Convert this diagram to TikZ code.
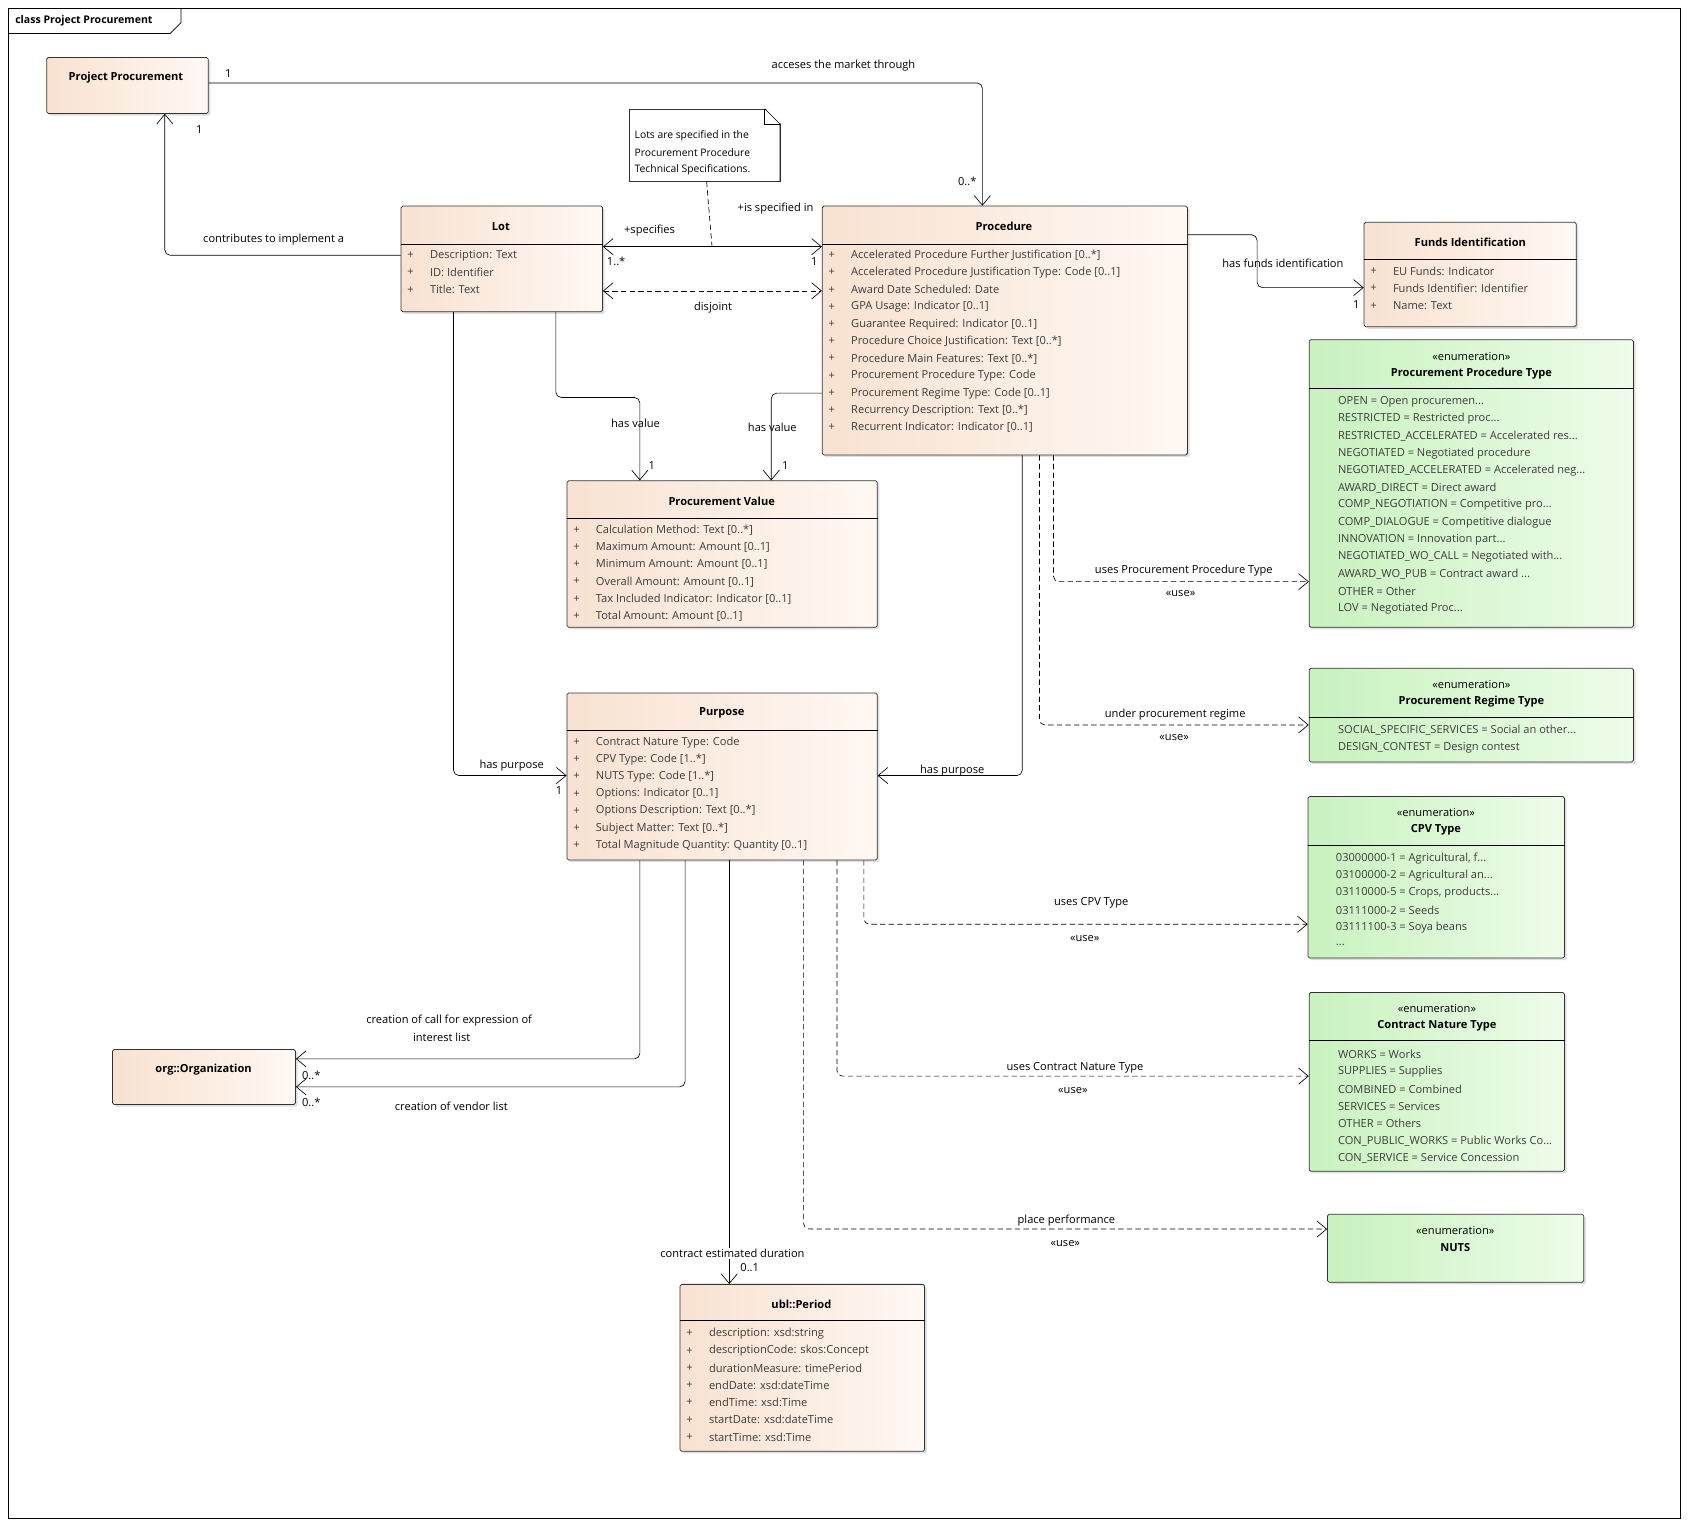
\documentclass[tikz,border=0pt]{standalone}
\usepackage{fontspec}
\setmainfont{Open Sans}
\usetikzlibrary{arrows.meta,shadows}
\definecolor{ClsL}{HTML}{F8E2D1}
\definecolor{ClsR}{HTML}{FFF8F3}
\definecolor{EnuL}{HTML}{C8F2BE}
\definecolor{EnuR}{HTML}{EEFCEA}
\definecolor{TxtC}{HTML}{3C3C3C}
\newcommand\el{...}
\tikzset{
  base/.style={draw=black!80, line width=0.7pt, rounded corners=1.5pt,
    drop shadow={shadow xshift=2pt, shadow yshift=-2pt, fill=black!25}},
  cls/.style={base, left color=ClsL, right color=ClsR},
  enu/.style={base, left color=EnuL, right color=EnuR},
  ttl/.style={font=\fontsize{10.3}{12}\selectfont\bfseries, inner sep=0pt},
  ster/.style={font=\fontsize{10.3}{12}\selectfont, inner sep=0pt},
  attr/.style={font=\fontsize{10.3}{12}\selectfont, text=TxtC, inner sep=0pt, anchor=west},
  lbl/.style={font=\fontsize{10.3}{12}\selectfont, inner sep=0pt},
  cn/.style={line width=0.6pt, rounded corners=5pt},
  dcn/.style={cn, dash pattern=on 5pt off 3pt},
  tip/.style={-{Straight Barb[length=9pt,width=15pt]}},
}
\newcommand\ubox[6]{\node[#6, anchor=north west, minimum width={(#4-#2)*1pt}, minimum height={(#5-#3)*1pt}] (#1) at (#2,#3) {};}
\newcommand\sep[2]{\draw[line width=0.7pt] (#1.west|-0,#2) -- (#1.east|-0,#2);}
\newcommand\plist[4]{\foreach \t [count=\i from 0] in {#4} {
  \node[attr] (#1p\i) at (#2,#3+16*\i) {+};
  \node[attr] (#1a\i) at (#2+21,#3+16*\i) {\t};}}
\newcommand\vlist[4]{\foreach \t [count=\i from 0] in {#4} {
  \node[attr] (#1v\i) at (#2,#3+16*\i) {\t};}}
\begin{document}
\begin{tikzpicture}[x=1pt,y=-1pt]
\useasboundingbox (0,0) rectangle (1568,1415);
% frame
\draw[line width=0.7pt] (8,8) rectangle (1560,1410);
\draw[line width=0.7pt] (8,31) -- (158,31) -- (168,21) -- (168,8);
\node[ttl, anchor=west, font=\fontsize{9.8}{12}\selectfont\bfseries] (frm) at (14,19) {class Project Procurement};

% classes
\ubox{pp}{43}{53}{193}{105}{cls}
\node[ttl] (ppT) at (117,72) {Project Procurement};

\ubox{lot}{372}{191}{559}{289}{cls}
\node[ttl] (lotT) at (465,210) {Lot};
\sep{lot}{227}
\plist{lot}{378}{237}{Description: Text,ID: Identifier,Title: Text}

\ubox{proc}{763}{191}{1102}{422}{cls}
\node[ttl] (procT) at (932,210) {Procedure};
\sep{proc}{227}
\plist{proc}{769}{237}{Accelerated Procedure Further Justification [0..*],Accelerated Procedure Justification Type: Code [0..1],Award Date Scheduled: Date,GPA Usage: Indicator [0..1],Guarantee Required: Indicator [0..1],Procedure Choice Justification: Text [0..*],Procedure Main Features: Text [0..*],Procurement Procedure Type: Code,Procurement Regime Type: Code [0..1],Recurrency Description: Text [0..*],Recurrent Indicator: Indicator [0..1]}

\ubox{fund}{1266}{206}{1463}{303}{cls}
\node[ttl] (fundT) at (1365,225) {Funds Identification};
\sep{fund}{241}
\plist{fund}{1272}{252}{EU Funds: Indicator,Funds Identifier: Identifier,Name: Text}

\ubox{val}{526}{446}{814}{582}{cls}
\node[ttl] (valT) at (670,465) {Procurement Value};
\sep{val}{481}
\plist{val}{532}{492}{Calculation Method: Text [0..*],Maximum Amount: Amount [0..1],Minimum Amount: Amount [0..1],Overall Amount: Amount [0..1],Tax Included Indicator: Indicator [0..1],Total Amount: Amount [0..1]}

\ubox{purp}{526}{643}{814}{798}{cls}
\node[ttl] (purpT) at (670,662) {Purpose};
\sep{purp}{678}
\plist{purp}{532}{689}{Contract Nature Type: Code,CPV Type: Code [1..*],NUTS Type: Code [1..*],Options: Indicator [0..1],Options Description: Text [0..*],Subject Matter: Text [0..*],Total Magnitude Quantity: Quantity [0..1]}

\ubox{org}{104}{974}{274}{1025}{cls}
\node[ttl] (orgT) at (189,993) {org::Organization};

\ubox{per}{631}{1192}{858}{1347}{cls}
\node[ttl] (perT) at (744,1211) {ubl::Period};
\sep{per}{1226}
\plist{per}{637}{1238}{description: xsd:string,descriptionCode: skos:Concept,durationMeasure: timePeriod,endDate: xsd:dateTime,endTime: xsd:Time,startDate: xsd:dateTime,startTime: xsd:Time}

% enumerations
\ubox{ppt}{1215}{315}{1516}{582}{enu}
\node[ster] (pptS) at (1366,331) {«enumeration»};
\node[ttl] (pptT) at (1366,347) {Procurement Procedure Type};
\sep{ppt}{361}
\vlist{ppt}{1242}{373}{OPEN = Open procuremen\el,RESTRICTED = Restricted proc\el,RESTRICTED\_ACCELERATED = Accelerated res\el,NEGOTIATED = Negotiated procedure,NEGOTIATED\_ACCELERATED = Accelerated neg\el,AWARD\_DIRECT = Direct award,COMP\_NEGOTIATION = Competitive pro\el,COMP\_DIALOGUE = Competitive dialogue,INNOVATION = Innovation part\el,NEGOTIATED\_WO\_CALL = Negotiated with\el,AWARD\_WO\_PUB = Contract award \el,OTHER = Other,LOV = Negotiated Proc\el}

\ubox{prt}{1215}{620}{1516}{707}{enu}
\node[ster] (prtS) at (1366,635) {«enumeration»};
\node[ttl] (prtT) at (1366,651) {Procurement Regime Type};
\sep{prt}{666}
\vlist{prt}{1242}{678}{SOCIAL\_SPECIFIC\_SERVICES = Social an other\el,DESIGN\_CONTEST = Design contest}

\ubox{cpv}{1214}{739}{1452}{889}{enu}
\node[ster] (cpvS) at (1333,754) {«enumeration»};
\node[ttl] (cpvT) at (1333,770) {CPV Type};
\sep{cpv}{785}
\vlist{cpv}{1240}{797}{03000000-1 = Agricultural{,} f\el,03100000-2 = Agricultural an\el,03110000-5 = Crops{,} products\el,03111000-2 = Seeds,03111100-3 = Soya beans,\el}

\ubox{cnt}{1215}{921}{1452}{1087}{enu}
\node[ster] (cntS) at (1334,936) {«enumeration»};
\node[ttl] (cntT) at (1334,952) {Contract Nature Type};
\sep{cnt}{966}
\vlist{cnt}{1242}{979}{WORKS = Works,SUPPLIES = Supplies,COMBINED = Combined,SERVICES = Services,OTHER = Others,CON\_PUBLIC\_WORKS = Public Works Co\el,CON\_SERVICE = Service Concession}

\ubox{nuts}{1232}{1127}{1470}{1190}{enu}
\node[ster] (nutsS) at (1351,1142) {«enumeration»};
\node[ttl] (nutsT) at (1351,1158) {NUTS};

% note
\node[draw=black!80, line width=0.6pt, fill=white, minimum width=140pt, minimum height=67pt, anchor=north west, inner sep=0pt] (note) at (584,101) {};
\fill[white] (710,100) -- (725,100) -- (725,115) -- cycle;
\draw[line width=0.6pt] (710,101) -- (724,115) -- (724,168);
\draw[line width=0.6pt] (710,101) -- (710,115) -- (724,115);
\node[lbl, anchor=west, font=\fontsize{9.6}{12}\selectfont] (n1) at (589,126) {Lots are specified in the};
\node[lbl, anchor=west, font=\fontsize{9.6}{12}\selectfont] (n2) at (589,142) {Procurement Procedure};
\node[lbl, anchor=west, font=\fontsize{9.6}{12}\selectfont] (n3) at (589,158) {Technical Specifications.};

% connectors
\draw[cn, tip] (pp.east|-0,77) -- (912,77) -- (proc.north-|912,0);
\node[lbl] (l1) at (783,61) {acceses the market through};
\node[lbl] (l1a) at (212,68) {1};
\node[lbl] (l1b) at (898,168) {0..*};

\draw[cn, tip] (lot.west|-0,237) -- (153,237) -- (pp.south-|153,0);
\node[lbl] (l2) at (254,222) {contributes to implement a};
\node[lbl] (l2a) at (185,120) {1};

\draw[cn, {Straight Barb[length=9pt,width=15pt]}-{Straight Barb[length=9pt,width=15pt]}] (lot.east|-0,229) -- (proc.west|-0,229);
\node[lbl] (l3a) at (603,214) {+specifies};
\node[lbl] (l3b) at (572,243) {1..*};
\node[lbl] (l3c) at (720,194) {+is specified in};
\node[lbl] (l3d) at (756,243) {1};
\coordinate (nl) at (661,229);
\draw[dcn] (note.south-|656,0) -- (nl);

\draw[dcn, {Straight Barb[length=9pt,width=15pt]}-{Straight Barb[length=9pt,width=15pt]}] (lot.east|-0,270) -- (proc.west|-0,270);
\node[lbl] (l4) at (662,286) {disjoint};

\draw[cn, tip] (lot.south-|516,0) -- (516,369) -- (594,369) -- (val.north-|594,0);
\node[lbl] (l5) at (590,393) {has value};
\node[lbl] (l5a) at (605,432) {1};
\draw[cn, tip] (proc.west|-0,365) -- (716,365) -- (val.north-|716,0);
\node[lbl] (l6) at (717,397) {has value};
\node[lbl] (l6a) at (729,432) {1};

\draw[cn, tip] (lot.south-|421,0) -- (421,720) -- (purp.west|-0,720);
\node[lbl] (l7) at (475,711) {has purpose};
\node[lbl] (l7a) at (519,734) {1};
\draw[cn, tip] (proc.south-|949,0) -- (949,720) -- (purp.east|-0,720);
\node[lbl] (l8) at (884,715) {has purpose};

\draw[cn, tip] (proc.east|-0,218) -- (1167,218) -- (1167,267) -- (fund.west|-0,267);
\node[lbl] (l9) at (1191,244) {has funds identification};
\node[lbl] (l9a) at (1259,283) {1};

\draw[dcn, tip] (proc.south-|978,0) -- (978,540) -- (ppt.west|-0,540);
\node[lbl] (l10) at (1099,530) {uses Procurement Procedure Type};
\node[lbl] (l10a) at (1096,551) {«use»};
\draw[dcn, tip] (proc.south-|965,0) -- (965,673) -- (prt.west|-0,673);
\node[lbl] (l11) at (1091,663) {under procurement regime};
\node[lbl] (l11a) at (1090,685) {«use»};

\draw[dcn, tip] (purp.south-|802,0) -- (802,858) -- (cpv.west|-0,858);
\node[lbl] (l12) at (1013,838) {uses CPV Type};
\node[lbl] (l12a) at (1007,871) {«use»};
\draw[dcn, tip] (purp.south-|777,0) -- (777,999) -- (cnt.west|-0,999);
\node[lbl] (l13) at (998,991) {uses Contract Nature Type};
\node[lbl] (l13a) at (996,1012) {«use»};
\draw[dcn, tip] (purp.south-|746,0) -- (746,1141) -- (nuts.west|-0,1141);
\node[lbl] (l14) at (990,1133) {place performance};
\node[lbl] (l14a) at (989,1154) {«use»};

\draw[cn, tip] (purp.south-|677,0) -- (per.north-|677,0);
\node[lbl, fill=white, inner sep=1pt] (l15) at (680,1164) {contract estimated duration};
\node[lbl] (l15a) at (696,1177) {0..1};

\draw[cn, tip] (purp.south-|594,0) -- (594,983) -- (org.east|-0,983);
\node[lbl] (l16) at (417,947) {creation of call for expression of};
\node[lbl] (l16b) at (410,963) {interest list};
\node[lbl] (l16a) at (289,998) {0..*};
\draw[cn, tip] (purp.south-|636,0) -- (636,1009) -- (org.east|-0,1009);
\node[lbl] (l17) at (419,1027) {creation of vendor list};
\node[lbl] (l17a) at (289,1023) {0..*};
\end{tikzpicture}
\end{document}
